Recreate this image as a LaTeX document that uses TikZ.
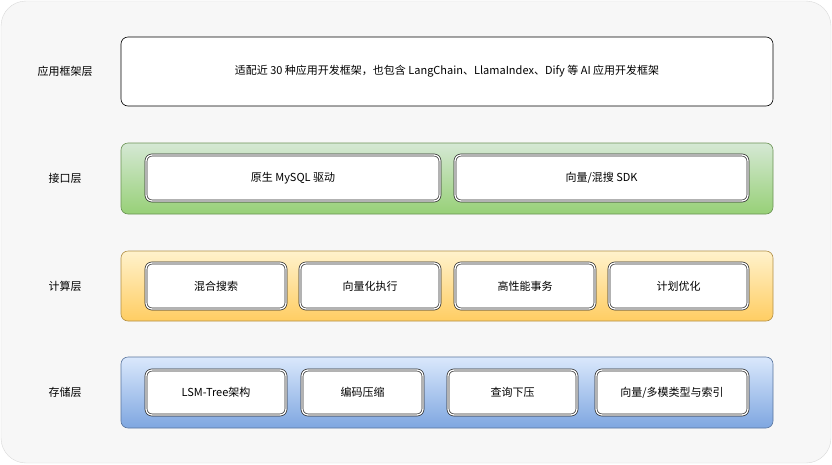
\documentclass[tikz,border=0pt]{standalone}
\usepackage{fontspec}
\setmainfont{Noto Sans CJK SC}
\begin{document}
\begin{tikzpicture}[x=1pt,y=-1pt,
  lbl/.style={font=\fontsize{11}{13}\selectfont},
  txt/.style={font=\fontsize{11}{13}\selectfont},
  layer/.style={draw=#1!70!black, rounded corners=7pt, line width=0.6pt},
  ibox/.style={draw=black!85, double=white, double distance=1.3pt, line width=0.7pt, rounded corners=6pt, fill=white}]
\definecolor{gtop}{HTML}{D5E8D4}\definecolor{gbot}{HTML}{97D077}
\definecolor{otop}{HTML}{FFF2CC}\definecolor{obot}{HTML}{FFCD62}
\definecolor{btop}{HTML}{DAE8FC}\definecolor{bbot}{HTML}{7EA6E0}
\useasboundingbox (0,0) rectangle (832,464);
\draw[fill=black!3, draw=black!15, rounded corners=25pt] (1,1) rectangle (831,463);
% app layer
\draw[draw=black, rounded corners=7pt, fill=white, line width=0.6pt] (121,37) rectangle (773,106);
\node[txt] (app) at (447,71.5) {适配近 30 种应用开发框架，也包含 LangChain、LlamaIndex、Dify 等 AI 应用开发框架};
\node[lbl] (l1) at (65,71.5) {应用框架层};
% interface
\draw[layer=gbot, top color=gtop, bottom color=gbot] (121,143) rectangle (773,214);
\node[lbl] (l2) at (65,178.5) {接口层};
\draw[ibox] (146,155) rectangle (440,201); \node[txt] (i1) at (293,178) {原生 MySQL 驱动};
\draw[ibox] (455,155) rectangle (748,201); \node[txt] (i2) at (601.5,178) {向量/混搜 SDK};
% compute
\draw[layer=obot, top color=otop, bottom color=obot] (121,251) rectangle (773,321);
\node[lbl] (l3) at (65,286) {计算层};
\draw[ibox] (146,263) rectangle (286,309); \node[txt] (c1) at (216,286) {混合搜索};
\draw[ibox] (300,263) rectangle (440,309); \node[txt] (c2) at (370,286) {向量化执行};
\draw[ibox] (455,263) rectangle (595,309); \node[txt] (c3) at (525,286) {高性能事务};
\draw[ibox] (609,263) rectangle (748,309); \node[txt] (c4) at (678.5,286) {计划优化};
% storage
\draw[layer=bbot, top color=btop, bottom color=bbot] (121,357) rectangle (773,428);
\node[lbl] (l4) at (65,392.5) {存储层};
\draw[ibox] (146,370) rectangle (286,415); \node[txt] (s1) at (216,392.5) {LSM-Tree架构};
\draw[ibox] (302,370) rectangle (423,415); \node[txt] (s2) at (362.5,392.5) {编码压缩};
\draw[ibox] (448,370) rectangle (577,415); \node[txt] (s3) at (512.5,392.5) {查询下压};
\draw[ibox] (596,370) rectangle (748,415); \node[txt] (s4) at (672,392.5) {向量/多模类型与索引};
\end{tikzpicture}
\end{document}
